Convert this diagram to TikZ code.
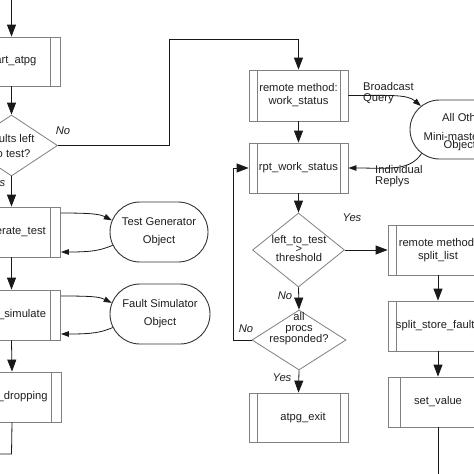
\documentclass[tikz,border=0pt]{standalone}
\usepackage{fontspec}
\setmainfont{Liberation Sans}
\usetikzlibrary{shapes.geometric,shapes.misc,arrows.meta}
\definecolor{boxgray}{gray}{0.5}
\definecolor{txtc}{gray}{0.12}
\definecolor{objc}{gray}{0.2}
\definecolor{linec}{gray}{0.1}
\begin{document}
\begin{tikzpicture}[x=1pt,y=-1pt,
  font=\fontsize{11.2}{13}\selectfont, text=txtc,
  box/.style={draw=boxgray, line width=0.8pt, minimum width=99pt, minimum height=50pt, inner sep=0pt, align=center},
  dbl/.style={path picture={\draw[boxgray,line width=0.8pt]
      ([xshift=#1]path picture bounding box.north west) -- ([xshift=#1]path picture bounding box.south west)
      ([xshift=-#1]path picture bounding box.north east) -- ([xshift=-#1]path picture bounding box.south east);}},
  dia/.style={diamond, draw=boxgray, line width=0.8pt, inner sep=0pt},
  obj/.style={rounded rectangle, draw=objc, line width=0.9pt, inner sep=0pt, align=center},
  arr/.style={draw=linec, line width=0.8pt, -{Triangle[length=12pt,width=9pt]}},
  sarr/.style={draw=linec, line width=0.8pt, -{Triangle[length=8pt,width=5.5pt]}},
  ln/.style={draw=linec, line width=0.8pt},
  lab/.style={font=\fontsize{11.2}{13}\selectfont\itshape, inner sep=0pt},
  plain/.style={inner sep=0pt}
]
\useasboundingbox (0,0) rectangle (474,474);
\fill[white] (0,0) rectangle (474,474);
\clip (0,0) rectangle (474,474);

% free ends
\coordinate (inTop) at (11.5,-5);
\coordinate (outL) at (-5,454);
\coordinate (outR) at (438,485);

% left column
\node[box,dbl=10pt, minimum width=98pt, minimum height=49pt] (start) at (11.5,61.5) {start\_atpg};
\node[dia, minimum width=92pt, minimum height=61pt] (d1) at (11.5,145.5) {};
\node[plain, align=center, font=\fontsize{11.2}{15}\selectfont] (d1t) at (12,145.5) {faults left\\to test?};
\node[box,dbl=10pt, minimum width=98pt] (gen) at (11.5,232) {generate\_test};
\node[box,dbl=10pt, minimum width=98pt] (sim) at (11.5,315) {fault\_simulate};
\node[box,dbl=10pt, minimum width=98pt] (drop) at (12,397) {fault\_dropping};

\node[obj, minimum width=98pt, minimum height=60pt, font=\fontsize{11.2}{18}\selectfont] (tg) at (159,232) {Test Generator\\Object};
\node[obj, minimum width=100pt, minimum height=60pt, font=\fontsize{11.2}{18}\selectfont] (fs) at (160,314) {Fault Simulator\\Object};

% middle column
\node[box,dbl=8pt, minimum height=51pt] (remote) at (298.5,95.5) {remote method:\\work\_status};
\node[box,dbl=8pt] (rpt) at (298.5,168) {rpt\_work\_status};
\node[dia, minimum width=92pt, minimum height=74pt] (d2) at (298.5,250) {};
\node[plain, align=center, font=\fontsize{11.2}{9}\selectfont] (d2t) at (299,248) {left\_to\_test\\>\\threshold};
\node[dia, minimum width=94pt, minimum height=60pt] (d3) at (299,340) {};
\node[plain, align=center, font=\fontsize{11.2}{11}\selectfont] (d3t) at (299,329) {all\\procs\\responded?};
\node[box,dbl=8pt, minimum height=49pt] (exit) at (298.5,417.5) {\hspace*{9pt}atpg\_exit};

% right column
\node[obj, minimum width=100pt, minimum height=59pt] (ao) at (460,129.5) {};
\node[plain, anchor=west] (ao1) at (442,117) {All Other};
\node[plain, anchor=west] (ao2) at (423.5,136.5) {Mini-master};
\node[plain, anchor=west] (ao3) at (443.5,146) {Objects};

\node[box,dbl=8pt, minimum width=100pt] (split) at (438,250) {remote method:\\split\_list};
\node[box,dbl=8pt, minimum width=100pt] (store) at (438,326) {split\_store\_faults};
\node[box,dbl=12pt, minimum width=100pt] (setv) at (438,402) {set\_value};

% connectors left
\draw[arr] (inTop) -- (start.north);
\draw[arr] (start.south) -- (d1.north);
\draw[arr] (d1.south) -- (gen.north);
\draw[arr] (gen.south) -- (sim.north);
\draw[arr] (sim.south) -- (drop.north);
\draw[ln] (drop.south) -- (11.5,454) -- (outL);
\draw[arr] (d1.east) -- (169,145.5) -- (169,39) -| (remote.north);

\draw[sarr] ([yshift=19pt]gen.east) .. controls +(32,0) and +(-12,-6) .. (tg.166);
\draw[sarr] (tg.196) .. controls +(-12,5) and +(32,0) .. ([yshift=-20pt]gen.east);
\draw[sarr] ([yshift=19pt]sim.east) .. controls +(32,0) and +(-12,-6) .. (fs.167);
\draw[sarr] (fs.196) .. controls +(-12,5) and +(32,0) .. ([yshift=-19pt]sim.east);

% connectors middle
\draw[arr] (remote.south) -- (rpt.north);
\draw[arr] (rpt.south) -- (d2.north);
\draw[arr] (d2.south) -- (d3.north);
\draw[arr] (d3.south) -- (exit.north);
\draw[arr] (d3.west) -- (233,340) |- (rpt.west);
\draw[arr] (d2.east) -- (split.west);
\draw[sarr] (remote.east) .. controls +(40,0) and +(-14,-12) .. (ao.149);
\draw[sarr] (ao.212) .. controls +(-12,18) and +(40,0) .. (rpt.east);

% connectors right
\draw[arr] (split.south) -- (store.north);
\draw[arr] (store.south) -- (setv.north);
\draw[ln] (setv.south) -- (outR);

% labels
\node[lab] (l1) at (63,131) {No};
\node[lab, anchor=east] (l2) at (5.5,183) {Yes};
\node[lab] (l3) at (352,218) {Yes};
\node[lab] (l4) at (285,296) {No};
\node[lab] (l5) at (246,329) {No};
\node[lab] (l6) at (282,378) {Yes};
\node[plain, anchor=west] (bq1) at (363,86) {Broadcast};
\node[plain, anchor=west] (bq2) at (363,98.5) {Query};
\node[plain, anchor=west] (ir1) at (375,169.5) {Individual};
\node[plain, anchor=west] (ir2) at (375,182) {Replys};
\end{tikzpicture}
\end{document}
